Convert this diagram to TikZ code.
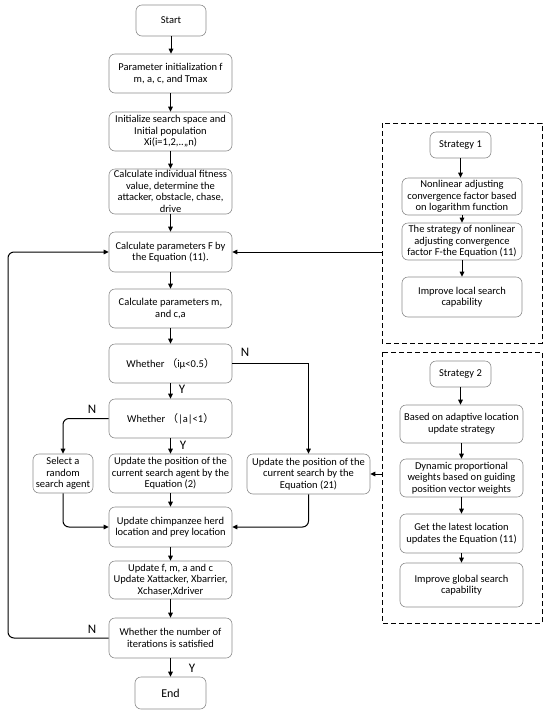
\documentclass[tikz,border=0pt]{standalone}
\usepackage{fontspec}
\setmainfont{Carlito}
\newfontfamily\cjk{Noto Sans CJK SC}
\usetikzlibrary{arrows.meta}
\begin{document}
\begin{tikzpicture}[x=1pt,y=-1pt,
  box/.style={draw=black!45, line width=0.6pt, rounded corners=6pt, align=center,
    font=\fontsize{10.5}{11.6}\selectfont, inner sep=1pt, minimum width=123pt},
  arr/.style={-{Triangle[length=5pt,width=4.5pt]}, line width=1pt},
  lab/.style={font=\fontsize{13}{14}\selectfont},
  dbox/.style={draw, dashed, dash pattern=on 5pt off 3pt, line width=0.9pt}]
\useasboundingbox (0,0) rectangle (550,716);
% main column
\node[box, minimum width=70pt, minimum height=31pt] (start) at (171,20.5) {Start};
\node[box, minimum height=39pt] (param) at (170.5,73.5) {Parameter initialization f\\m, a, c, and Tmax};
\node[box, minimum height=39pt] (init) at (170.5,131.5) {Initialize search space and\\Initial population\\Xi(i=1,2,..,,n)};
\node[box, minimum height=45pt] (fit) at (170.5,191.5) {Calculate individual fitness\\value, determine the\\attacker, obstacle, chase,\\drive};
\node[box, minimum height=40pt] (calcF) at (170.5,252) {Calculate parameters F by\\the Equation (11).};
\node[box, minimum height=39pt] (calcM) at (170.5,308.5) {Calculate parameters m,\\and c,a};
\node[box, minimum height=39pt] (wmu) at (170.5,363.5) {Whether {\cjk （}iμ<0.5{\cjk ）}};
\node[box, minimum height=39pt] (wa) at (170.5,418.5) {Whether {\cjk （}|a|<1{\cjk ）}};
\node[box, minimum height=39pt] (upd2) at (170.5,473.5) {Update the position of the\\current search agent by the\\Equation (2)};
\node[box, minimum width=60pt, minimum height=39pt] (sel) at (63,473.5) {Select a\\random\\search agent};
\node[box, minimum height=40pt] (upd21) at (308.5,474) {Update the position of the\\current search by the\\Equation (21)};
\node[box, minimum height=40pt] (chimp) at (170.5,527) {Update chimpanzee herd\\location and prey location};
\node[box, minimum height=38pt] (updf) at (170.5,580) {Update f, m, a and c\\Update Xattacker, Xbarrier,\\Xchaser,Xdriver};
\node[box, minimum height=40pt] (wnum) at (170.5,638) {Whether the number of\\iterations is satisfied};
\node[box, minimum width=71pt, minimum height=32pt] (end) at (170.5,693) {\fontsize{12}{13}\selectfont End};
% strategy 1
\draw[dbox] (382,123) rectangle (542,343);
\node[box, minimum width=61pt, minimum height=26pt] (s1) at (460.5,145) {Strategy 1};
\node[box, minimum width=120pt, minimum height=37pt] (nl) at (462,196.5) {Nonlinear adjusting\\convergence factor based\\on logarithm function};
\node[box, minimum width=120pt, minimum height=37pt] (st) at (462,241.5) {The strategy of nonlinear\\adjusting convergence\\factor F-the Equation (11)};
\node[box, minimum width=120pt, minimum height=40pt] (il) at (462,297) {Improve local search\\capability};
% strategy 2
\draw[dbox] (382,352) rectangle (542,623);
\node[box, minimum width=61pt, minimum height=26pt] (s2) at (460.5,374) {Strategy 2};
\node[box, minimum height=38pt] (ba) at (461.5,424) {Based on adaptive location\\update strategy};
\node[box, minimum height=38pt] (dy) at (461.5,478) {Dynamic proportional\\weights based on guiding\\position vector weights};
\node[box, minimum height=39pt] (gl) at (461.5,533.5) {Get the latest location\\updates the Equation (11)};
\node[box, minimum height=44pt] (ig) at (461.5,585) {Improve global search\\capability};
% vertical arrows
\foreach \a/\b in {start/param,param/init,init/fit,fit/calcF,calcF/calcM,calcM/wmu,wmu/wa,wa/upd2,upd2/chimp,chimp/updf,updf/wnum,wnum/end,s1/nl,nl/st,st/il,s2/ba,ba/dy,dy/gl,gl/ig}
  \draw[arr] (\a.south) -- (\a.south |- \b.north);
% branches
\draw[arr] (wmu.east) -- (upd21.north |- wmu.east) -- (upd21.north);
\draw[arr, rounded corners=6pt] (wa.west) -- (sel.north |- wa.west) -- (sel.north);
\draw[arr, rounded corners=6pt] (sel.south) -- (sel.south |- chimp.west) -- (chimp.west);
\draw[arr, rounded corners=6pt] (upd21.south) -- (upd21.south |- chimp.east) -- (chimp.east);
\draw[arr, rounded corners=6pt] (wnum.west) -- (8,638) -- (8,252) -- (calcF.west);
\coordinate (c1) at (382,252);
\coordinate (c2) at (382,474);
\draw[arr] (c1) -- (calcF.east);
\draw[arr] (c2) -- (upd21.east);
% labels
\node[lab] (yl1) at (182,389) {Y};
\node[lab] (yl2) at (183,445) {Y};
\node[lab] (nl1) at (245,352) {N};
\node[lab] (nl2) at (92,409) {N};
\node[lab] (nl3) at (92,629) {N};
\node[lab] (yl3) at (192,668) {Y};
\end{tikzpicture}
\end{document}
